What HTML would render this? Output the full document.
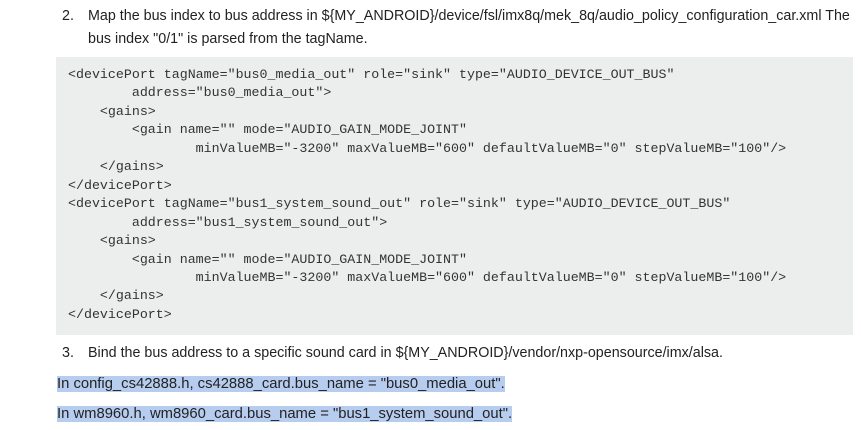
<!DOCTYPE html>
<html><head><meta charset="utf-8"><style>
html,body{margin:0;padding:0;background:#fff;width:861px;height:430px;overflow:hidden}
body{font-family:"Liberation Sans",Arial,sans-serif;color:#222;font-size:14.3px}
.t{position:absolute;white-space:nowrap;line-height:18px}
.box{position:absolute;left:56px;top:57px;width:797px;height:278px;background:#eceeee}
pre{position:absolute;left:68px;top:66px;margin:0;font-family:"Liberation Mono",monospace;font-size:13.3px;line-height:18.46px;color:#333}
.hl{background:#b7cdf0;font-size:14.8px}
</style></head><body>
<div class="t" style="left:62px;top:7px">2.</div>
<div class="t" style="left:88px;top:7px">Map the bus index to bus address in ${MY_ANDROID}/device/fsl/imx8q/mek_8q/audio_policy_configuration_car.xml The</div>
<div class="t" style="left:88px;top:30px">bus index "0/1" is parsed from the tagName.</div>
<div class="box"></div>
<pre>&lt;devicePort tagName="bus0_media_out" role="sink" type="AUDIO_DEVICE_OUT_BUS"
        address="bus0_media_out"&gt;
    &lt;gains&gt;
        &lt;gain name="" mode="AUDIO_GAIN_MODE_JOINT"
                minValueMB="-3200" maxValueMB="600" defaultValueMB="0" stepValueMB="100"/&gt;
    &lt;/gains&gt;
&lt;/devicePort&gt;
&lt;devicePort tagName="bus1_system_sound_out" role="sink" type="AUDIO_DEVICE_OUT_BUS"
        address="bus1_system_sound_out"&gt;
    &lt;gains&gt;
        &lt;gain name="" mode="AUDIO_GAIN_MODE_JOINT"
                minValueMB="-3200" maxValueMB="600" defaultValueMB="0" stepValueMB="100"/&gt;
    &lt;/gains&gt;
&lt;/devicePort&gt;</pre>
<div class="t" style="left:62px;top:344px">3.</div>
<div class="t" style="left:88px;top:344px">Bind the bus address to a specific sound card in ${MY_ANDROID}/vendor/nxp-opensource/imx/alsa.</div>
<div class="t" style="left:57px;top:375px"><span class="hl">In config_cs42888.h, cs42888_card.bus_name = "bus0_media_out".</span></div>
<div class="t" style="left:57px;top:405px"><span class="hl">In wm8960.h, wm8960_card.bus_name = "bus1_system_sound_out".</span></div>
</body></html>
